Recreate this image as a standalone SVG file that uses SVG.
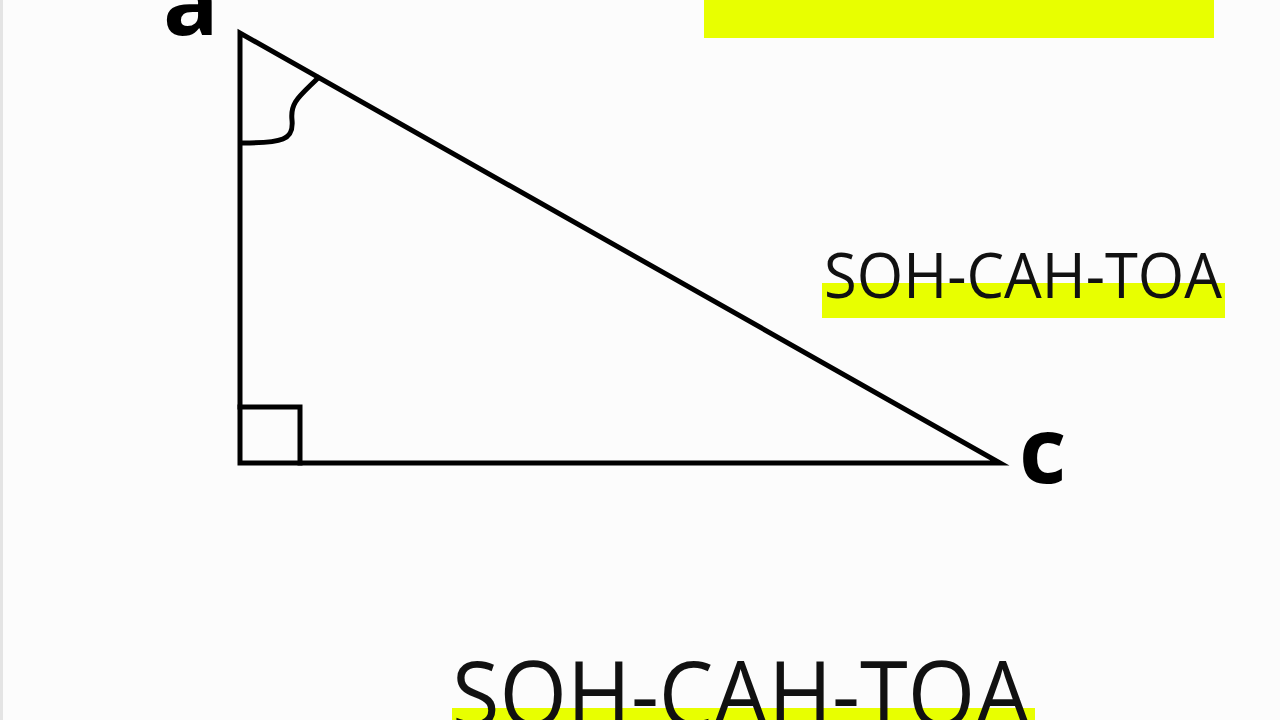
<svg xmlns="http://www.w3.org/2000/svg" width="1280" height="720" viewBox="0 0 1280 720">
<style>
.stroke{fill:none;stroke:#000;stroke-width:5;stroke-linejoin:miter;stroke-linecap:square}
.lbl{font-family:"Open Sans","Liberation Sans",sans-serif;font-weight:bold;fill:#000}
.soh{font-family:"Open Sans","Liberation Sans",sans-serif;fill:#111}
.hl{fill:#e8ff00}
</style>
<rect x="0" y="0" width="1280" height="720" fill="#fcfcfc"/>
<rect x="0" y="0" width="3" height="720" fill="#e4e4e4"/>
<g id="top-highlight"><rect class="hl" x="704" y="0" width="510" height="38"/></g>
<g id="triangle">
<path class="stroke" d="M240,33 L240,463 L1000,463 Z"/>
<path class="stroke" d="M240,407 L300,407 L300,463"/>
<path class="stroke" d="M318,78 C300,96 290,102 292,120 C294,140 282,143 243,143"/>
</g>
<g id="label-a"><text class="lbl" x="163" y="35" font-size="92">a</text></g>
<g id="label-c"><text class="lbl" x="1019" y="483" font-size="92">c</text></g>
<g id="soh-mid">
<rect class="hl" x="822" y="283" width="403" height="35"/>
<text class="soh" x="824" y="298" font-size="63" textLength="398" lengthAdjust="spacingAndGlyphs">SOH-CAH-TOA</text>
</g>
<g id="soh-bottom">
<rect class="hl" x="452" y="708" width="583" height="12"/>
<text class="soh" x="452" y="727" font-size="92" textLength="578" lengthAdjust="spacingAndGlyphs">SOH-CAH-TOA</text>
</g>
</svg>
